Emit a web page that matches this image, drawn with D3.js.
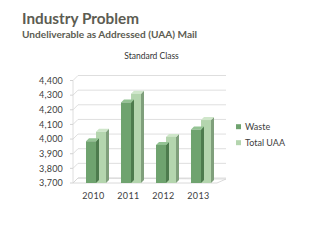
<!DOCTYPE html>
<html>
<head>
<meta charset="utf-8">
<script src="https://cdn.jsdelivr.net/npm/d3@7"></script>
<style>
  body { margin: 0; background: #fff; }
  text { font-family: Lato, "Liberation Sans", sans-serif; }
</style>
</head>
<body>
<div class="chart"></div>
<script>
// chart data
var years = ["2010", "2011", "2012", "2013"];
var waste = [3985, 4250, 3960, 4065];
var totalUAA = [4050, 4310, 4015, 4130];
var seriesNames = ["Waste", "Total UAA"];
var yTicks = [3700, 3800, 3900, 4000, 4100, 4200, 4300, 4400];

var svgWidth = 320;
var svgHeight = 240;

// front plane of the plot
var plot = { left: 73, right: 217, top: 80.5, bottom: 183 };
var wallDx = 5, wallDy = -5;   // depth of side/back wall
var barDx = 3, barDy = -3;     // depth of each bar

var svg = d3.select(".chart")
  .append("svg")
  .attr("width", svgWidth)
  .attr("height", svgHeight);

// titles
svg.append("text")
  .attr("x", 22).attr("y", 24)
  .attr("font-size", "15.3px").attr("font-weight", "bold")
  .attr("fill", "#5c5c52")
  .text("Industry Problem");

svg.append("text")
  .attr("x", 22).attr("y", 37.5)
  .attr("font-size", "10.1px").attr("font-weight", "bold")
  .attr("fill", "#5c5c52")
  .text("Undeliverable as Addressed (UAA) Mail");

svg.append("text")
  .attr("x", 151.5).attr("y", 59)
  .attr("text-anchor", "middle")
  .attr("font-size", "8.5px")
  .attr("fill", "#333")
  .text("Standard Class");

// scales
var yScale = d3.scaleLinear()
  .domain([3700, 4400])
  .range([plot.bottom, plot.top]);

var xScale = d3.scaleBand()
  .domain(years)
  .range([76, 216]);

var chart = svg.append("g");

// floor
var fl = plot.bottom;
chart.append("polygon")
  .attr("points", [[plot.left, fl], [plot.right, fl], [plot.right + 9, fl - 4], [plot.left + wallDx, fl + wallDy]].join(" "))
  .attr("fill", "#fff")
  .attr("stroke", "#d0d0d0")
  .attr("stroke-width", 0.8);

// gridlines on side wall + back wall
yTicks.forEach(function(v) {
  var y = yScale(v);
  chart.append("polyline")
    .attr("points", [[plot.left, y], [plot.left + wallDx, y + wallDy], [plot.right + 9, y + wallDy]].join(" "))
    .attr("fill", "none")
    .attr("stroke", "#d6d6d6")
    .attr("stroke-width", 0.8);
  // tick
  chart.append("line")
    .attr("x1", plot.left - 3).attr("x2", plot.left)
    .attr("y1", y).attr("y2", y)
    .attr("stroke", "#c8c8c8").attr("stroke-width", 0.8);
  // label
  chart.append("text")
    .attr("x", 63).attr("y", y)
    .attr("dy", "0.35em")
    .attr("text-anchor", "end")
    .attr("font-size", "9px")
    .attr("letter-spacing", "0.2px")
    .attr("fill", "#404040")
    .text(d3.format(",")(v));
});

// front left edge of side wall
chart.append("line")
  .attr("x1", plot.left).attr("x2", plot.left)
  .attr("y1", plot.top).attr("y2", plot.bottom)
  .attr("stroke", "#d6d6d6").attr("stroke-width", 0.8);

// bars
var colors = [
  { front: "#6fa36f", top: "#94c394", side: "#4d7b4d" },
  { front: "#b4d5ae", top: "#cfe6ca", side: "#7f9f7b" }
];
var barW = 10;

function drawBar(x, v, c) {
  var yTop = yScale(v);
  var yBot = plot.bottom;
  // side
  chart.append("polygon")
    .attr("points", [[x + barW, yTop], [x + barW + barDx, yTop + barDy], [x + barW + barDx, yBot + barDy], [x + barW, yBot]].join(" "))
    .attr("fill", c.side);
  // top
  chart.append("polygon")
    .attr("points", [[x, yTop], [x + barDx, yTop + barDy], [x + barW + barDx, yTop + barDy], [x + barW, yTop]].join(" "))
    .attr("fill", c.top);
  // front
  chart.append("rect")
    .attr("x", x).attr("y", yTop)
    .attr("width", barW).attr("height", yBot - yTop)
    .attr("fill", c.front);
}

years.forEach(function(yr, i) {
  var center = xScale(yr) + xScale.bandwidth() / 2;
  drawBar(center - 7.5 + barW, totalUAA[i], colors[1]);
  drawBar(center - 7.5, waste[i], colors[0]);
});

// x labels
years.forEach(function(yr) {
  chart.append("text")
    .attr("x", xScale(yr) + xScale.bandwidth() / 2)
    .attr("y", 199)
    .attr("text-anchor", "middle")
    .attr("font-size", "9px")
    .attr("letter-spacing", "0.4px")
    .attr("fill", "#404040")
    .text(yr);
});

// legend
var legend = svg.append("g");
seriesNames.forEach(function(name, i) {
  var ly = 126.7 + i * 16;
  legend.append("rect")
    .attr("x", 236).attr("y", ly - 2.5)
    .attr("width", 5).attr("height", 5)
    .attr("fill", colors[i].front);
  legend.append("text")
    .attr("x", 245).attr("y", ly)
    .attr("dy", "0.35em")
    .attr("font-size", "9px")
    .attr("fill", "#404040")
    .text(name);
});
</script>
</body>
</html>
